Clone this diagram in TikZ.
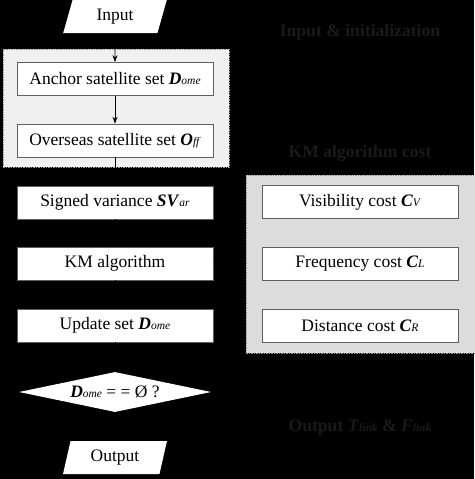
\documentclass[tikz,border=0pt]{standalone}
\usepackage{fontspec}
\setmainfont{Liberation Serif}
\usetikzlibrary{shapes.geometric,arrows.meta}
\newcommand{\symb}[2]{\textbf{\textit{#1}}{\fontsize{11.5}{11.5}\selectfont\textit{#2}}}
\definecolor{grpA}{RGB}{240,240,240}
\definecolor{grpB}{RGB}{220,220,220}
\definecolor{bordr}{RGB}{95,95,95}
\definecolor{dashc}{RGB}{150,150,150}
\definecolor{faint}{RGB}{26,26,26}
\tikzset{
  box/.style={draw=bordr, line width=0.7pt, fill=white, minimum width=196pt, minimum height=33pt, inner sep=0pt, font=\fontsize{17.5}{20}\selectfont},
  para/.style={trapezium, trapezium left angle=75, trapezium right angle=105, trapezium stretches=true, fill=white, draw=none, minimum width=104pt, minimum height=33pt, inner sep=0pt, font=\fontsize{17.5}{20}\selectfont},
  dia/.style={diamond, aspect=4.8, fill=white, draw=none, minimum width=192pt, minimum height=40pt, inner sep=0pt, font=\fontsize{17.5}{20}\selectfont},
  grp/.style={draw=dashc, dashed, dash pattern=on 1.5pt off 1pt, line width=0.8pt, inner sep=0pt},
  lbl/.style={text=faint, font=\fontsize{17.6}{20}\selectfont\bfseries},
  arr/.style={draw=black, line width=0.7pt, -{Stealth[length=7pt,width=5pt]}}
}
\begin{document}
\begin{tikzpicture}[x=1pt,y=-1pt]
\useasboundingbox[fill=black] (0,0) rectangle (474,479);
% groups
\node[grp, fill=grpA, minimum width=226pt, minimum height=118pt] (initgrp) at (116,108) {};
\node[grp, fill=grpB, minimum width=230pt, minimum height=178pt] (costgrp) at (361,264) {};
% labels
\node[lbl] (lblA) at (360,32) {Input \& initialization};
\node[lbl] (lblB) at (360,153) {KM algorithm cost};
\node[lbl] (lblC) at (360,428) {Output \symb{T}{link} \& \symb{F}{link}};
% flow nodes
\node[para] (input) at (115,16.5) {Input};
\node[box] (anchor) at (115,79) {Anchor satellite set \symb{D}{ome}};
\node[box] (overseas) at (115,140.5) {Overseas satellite set \symb{O}{ff}};
\node[box] (sv) at (115,202.5) {Signed variance \symb{SV}{ar}};
\node[box] (km) at (115,263.5) {KM algorithm};
\node[box] (upd) at (115,325.5) {Update set \symb{D}{ome}};
\node[dia] (cond) at (115,392) {\symb{D}{ome} = = Ø ?};
\node[para] (output) at (115,457.5) {Output};
% cost nodes
\node[box] (vis) at (360,202) {Visibility cost \symb{C}{V}};
\node[box] (freq) at (360,263.5) {Frequency cost \symb{C}{L}};
\node[box] (dist) at (360,325.5) {Distance cost \symb{C}{R}};
% connectors
\draw[arr] (input) -- (anchor);
\draw[arr] (anchor) -- (overseas);
\draw[arr] (overseas) -- (sv);
\draw[arr] (sv) -- (km);
\draw[arr] (km) -- (upd);
\draw[arr] (upd) -- (cond);
\draw[arr] (cond) -- (output);
\draw[arr] (cond.west) -- ++(-14,0) |- (sv.west);
\draw[arr] (costgrp.west |- km) -- (km.east);
\end{tikzpicture}
\end{document}
